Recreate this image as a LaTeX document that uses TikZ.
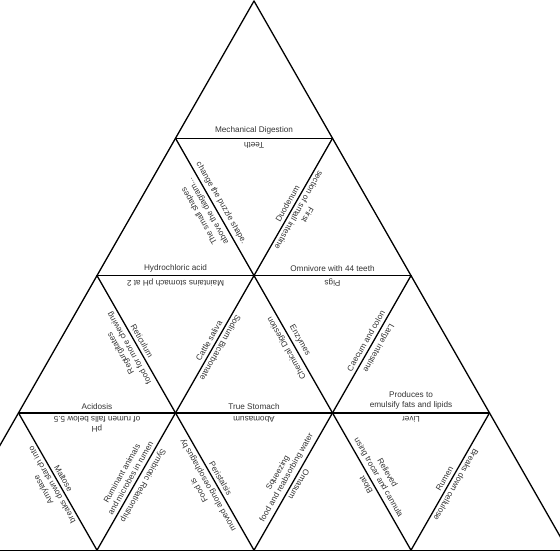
\documentclass[tikz,border=0pt]{standalone}
\usepackage{fontspec}
\setmainfont{Liberation Sans}
\usepackage{tikz, tkz-euclide}
\usetikzlibrary{positioning}

\tikzset{
  edge/.style={line width=1.3pt, black},
  lbl/.style={sloped, allow upside down, above=1pt, align=center,
    inner sep=2.5pt, text=black!80, font=\fontsize{8.2}{10}\selectfont}
}

\begin{document}
\begin{tikzpicture}[x=1pt,y=1pt]

    \useasboundingbox (0,0) rectangle (560,560);
    \clip (0,0) rectangle (560,560);

    % lattice of the puzzle
    \tkzDefPoint(254,559){A}
    \tkzDefPoint(175.5,421.7){B}
    \tkzDefPoint(332.5,421.7){C}
    \tkzDefPoint(97,284.4){D}
    \tkzDefPoint(254,284.4){E}
    \tkzDefPoint(411,284.4){F}
    \tkzDefPoint(18.5,147.1){G}
    \tkzDefPoint(175.5,147.1){H}
    \tkzDefPoint(332.5,147.1){I}
    \tkzDefPoint(489.5,147.1){J}
    \tkzDefPoint(-60,9.8){K}
    \tkzDefPoint(97,9.8){L}
    \tkzDefPoint(254,9.8){M}
    \tkzDefPoint(411,9.8){N}
    \tkzDefPoint(568,9.8){O}

    \tkzDrawSegments[edge](A,K A,O K,O B,C D,F G,J B,N D,M G,L C,L F,M J,N)

    % row 1
    \tkzLabelSegment[lbl, name=mech](B,C){Mechanical Digestion}

    % row 2
    \tkzLabelSegment[lbl, name=teeth](C,B){Teeth}
    \tkzLabelSegment[lbl, name=change](B,E){change the puzzle shape.}
    \tkzLabelSegment[lbl, name=shapes](E,B){The small shapes\\above the diagram...}
    \tkzLabelSegment[lbl, name=duod](E,C){Duodenum}
    \tkzLabelSegment[lbl, name=first](C,E){First\\section of small intestine}
    \tkzLabelSegment[lbl, name=hcl](D,E){Hydrochloric acid}
    \tkzLabelSegment[lbl, name=omni](E,F){Omnivore with 44 teeth}

    % row 3
    \tkzLabelSegment[lbl, name=ph2](E,D){Maintains stomach pH at 2}
    \tkzLabelSegment[lbl, name=retic](D,H){Reticulum}
    \tkzLabelSegment[lbl, name=regurg](H,D){Regurgitates\\food for more chewing}
    \tkzLabelSegment[lbl, name=saliva](H,E){Cattle saliva}
    \tkzLabelSegment[lbl, name=sodium](E,H){Sodium Bicarbonate}
    \tkzLabelSegment[lbl, name=pigs](F,E){Pigs}
    \tkzLabelSegment[lbl, name=chem](I,E){Chemical Digestion}
    \tkzLabelSegment[lbl, name=enz](E,I){Enzymes}
    \tkzLabelSegment[lbl, name=caecum](I,F){Caecum and colon}
    \tkzLabelSegment[lbl, name=large](F,I){Large intestine}
    \tkzLabelSegment[lbl, name=acid](G,H){Acidosis}
    \tkzLabelSegment[lbl, name=truest](H,I){True Stomach}
    \tkzLabelSegment[lbl, name=bile](I,J){Produces to\\emulsify fats and lipids}

    % row 4
    \tkzLabelSegment[lbl, name=ph55](H,G){pH\\of rumen falls below 5.5}
    \tkzLabelSegment[lbl, name=malt](G,L){Maltose}
    \tkzLabelSegment[lbl, name=amyl](L,G){Amylase\\breaks down starch into}
    \tkzLabelSegment[lbl, name=rumin](L,H){Ruminant animals\\and microbes in rumen}
    \tkzLabelSegment[lbl, name=symb](H,L){Symbiotic Relationship}
    \tkzLabelSegment[lbl, name=abom](I,H){Abomasum}
    \tkzLabelSegment[lbl, name=food](M,H){Food is\\moved along oesophagus by}
    \tkzLabelSegment[lbl, name=peri](H,M){Peristalsis}
    \tkzLabelSegment[lbl, name=squeeze](M,I){Squeezing\\food and reabsorbing water}
    \tkzLabelSegment[lbl, name=omas](I,M){Omasum}
    \tkzLabelSegment[lbl, name=liver](J,I){Liver}
    \tkzLabelSegment[lbl, name=bloat](N,I){Bloat}
    \tkzLabelSegment[lbl, name=relief](I,N){Relieved\\using trocar and cannula}
    \tkzLabelSegment[lbl, name=rumen](N,J){Rumen}
    \tkzLabelSegment[lbl, name=cellu](J,N){Breaks down cellulose}

  \end{tikzpicture}
\end{document}
